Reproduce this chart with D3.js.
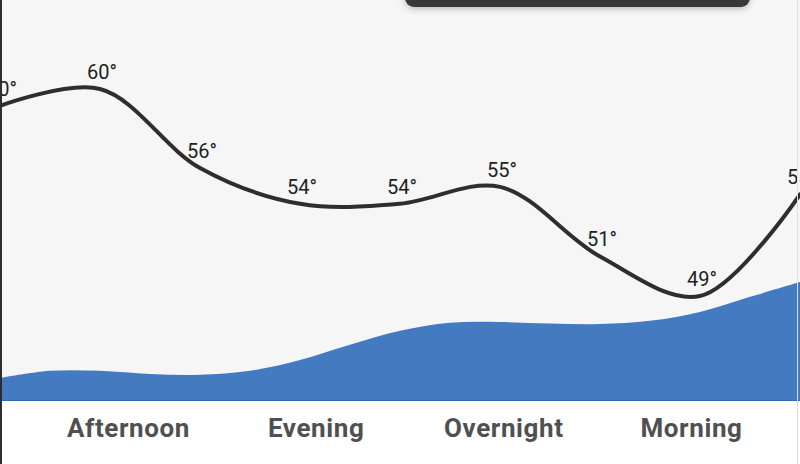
<!DOCTYPE html>
<html>
<head>
<meta charset="utf-8">
<script src="https://cdn.jsdelivr.net/npm/d3@7/dist/d3.min.js"></script>
<style>
  html, body { margin: 0; padding: 0; background: #ffffff; }
  svg { display: block; }
</style>
</head>
<body>
<svg id="chart" width="800" height="464"></svg>
<script>
// ---- data ----
const tempIndex = [0, 1, 2, 3, 4, 5, 6, 7, 8];
const temps = [59.1, 60.0, 55.8, 53.9, 53.9, 54.8, 51.1, 49.0, 54.4];
const tempLabels = ["60°", "60°", "56°", "54°", "54°", "55°", "51°", "49°", "55°"];

const precipIndex = [0, 0.5, 1, 1.5, 2, 2.5, 3, 3.5, 4, 4.5, 5, 5.5, 6, 6.5, 7, 7.5, 8];
const precip = [5.5, 7.3, 7.3, 6.5, 6.3, 7.3, 10, 13.8, 17.3, 19.3, 19.5, 19.1, 19, 19.8, 22, 25.8, 29.5];

const periods = ["Afternoon", "Evening", "Overnight", "Morning"];

// ---- layout ----
const W = 800, H = 464;
const plotBottom = 400;
const svg = d3.select("#chart");

// scales
const x = d3.scaleLinear().domain([0, 8]).range([0, 800]);
const yTemp = d3.scaleLinear().domain([49, 60]).range([296, 89]);
const yPrecip = d3.scaleLinear().domain([0, 100]).range([plotBottom, 0]);
const xPeriod = d3.scalePoint().domain(periods).range([128, 691]);

// backgrounds
svg.append("rect").attr("x", 0).attr("y", 0).attr("width", W).attr("height", H).attr("fill", "#ffffff");
svg.append("rect").attr("x", 0).attr("y", 0).attr("width", W).attr("height", plotBottom).attr("fill", "#f6f6f6");

// precipitation area
const area = d3.area()
  .x((d, i) => x(precipIndex[i]))
  .y0(plotBottom)
  .y1(d => yPrecip(d))
  .curve(d3.curveCatmullRom);
svg.append("path")
  .datum(precip)
  .attr("d", area)
  .attr("fill", "#437ac0");
svg.append("line")
  .attr("x1", 0).attr("x2", W)
  .attr("y1", plotBottom + 0.5).attr("y2", plotBottom + 0.5)
  .attr("stroke", "#2f69b2").attr("stroke-width", 1);

// temperature line
const line = d3.line()
  .x((d, i) => x(tempIndex[i]))
  .y(d => yTemp(d))
  .curve(d3.curveCatmullRom);
svg.append("path")
  .datum(temps)
  .attr("d", line)
  .attr("fill", "none")
  .attr("stroke", "#2e2e2e")
  .attr("stroke-width", 4)
  .attr("stroke-linejoin", "round")
  .attr("stroke-linecap", "round");

// temperature labels
svg.append("g").selectAll("text")
  .data(temps)
  .join("text")
  .attr("x", (d, i) => x(tempIndex[i]) + 2)
  .attr("y", d => yTemp(d) - 10)
  .attr("text-anchor", "middle")
  .attr("font-family", "Roboto, 'Noto Sans', sans-serif")
  .attr("font-size", 20)
  .attr("fill", "#222222")
  .text((d, i) => tempLabels[i]);

// period axis labels
const axis = d3.axisBottom(xPeriod).tickSize(0).tickPadding(0);
const gAxis = svg.append("g").attr("transform", `translate(0, ${plotBottom})`).call(axis);
gAxis.select(".domain").remove();
gAxis.selectAll("text")
  .attr("dy", null)
  .attr("y", 37)
  .attr("font-family", "Roboto, 'Noto Sans', sans-serif")
  .attr("font-size", 26)
  .attr("font-weight", "bold")
  .attr("letter-spacing", 0.6)
  .attr("fill", "#505050");

// top dark tab with shadow
const defs = svg.append("defs");
const f = defs.append("filter").attr("id", "sh").attr("x", "-10%").attr("y", "-100%").attr("width", "120%").attr("height", "400%");
f.append("feDropShadow").attr("dx", 0).attr("dy", 2).attr("stdDeviation", 3).attr("flood-color", "#000").attr("flood-opacity", 0.25);
svg.append("rect")
  .attr("x", 405).attr("y", -12).attr("width", 345).attr("height", 19)
  .attr("rx", 9).attr("ry", 9)
  .attr("fill", "#383838")
  .attr("filter", "url(#sh)");

// frame edges
svg.append("rect").attr("x", 0).attr("y", 0).attr("width", 2).attr("height", H).attr("fill", "#2e2e2e");
svg.append("rect").attr("x", 797).attr("y", 0).attr("width", 1).attr("height", H).attr("fill", "#dedede");
</script>
</body>
</html>
